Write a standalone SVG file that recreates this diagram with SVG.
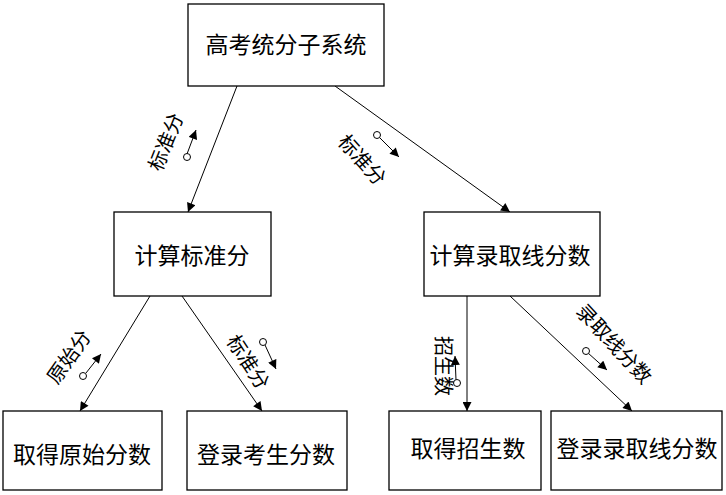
<svg xmlns="http://www.w3.org/2000/svg" width="726" height="495" viewBox="0 0 726 495">
<defs>
<style>
.b{fill:#fff;stroke:#000;stroke-width:1.3}
.t{font-family:"Liberation Serif","Noto Sans CJK SC",serif;font-size:23px;text-anchor:middle;dominant-baseline:central}
.l{font-family:"Liberation Serif","Noto Sans CJK SC",serif;font-size:20px;text-anchor:middle;dominant-baseline:central}
.c{stroke:#000;stroke-width:1;fill:none}
.dc{fill:#fff;stroke:#000;stroke-width:1}
</style>
<marker id="a" viewBox="0 0 10 10" refX="10" refY="5" markerWidth="12" markerHeight="9" markerUnits="userSpaceOnUse" orient="auto"><path d="M0,0L10,5L0,10z"/></marker>
<marker id="s" viewBox="0 0 10 10" refX="10" refY="5" markerWidth="10" markerHeight="9" markerUnits="userSpaceOnUse" orient="auto"><path d="M0,0L10,5L0,10z"/></marker>
</defs>
<rect width="726" height="495" fill="#fff"/>
<g id="connectors">
<line class="c" x1="237" y1="86" x2="188" y2="212" marker-end="url(#a)"/>
<line class="c" x1="335" y1="86" x2="510" y2="212" marker-end="url(#a)"/>
<line class="c" x1="150" y1="296" x2="80" y2="411" marker-end="url(#a)"/>
<line class="c" x1="182" y1="296" x2="262" y2="411" marker-end="url(#a)"/>
<line class="c" x1="467" y1="296" x2="467" y2="411" marker-end="url(#a)"/>
<line class="c" x1="510" y1="296" x2="632" y2="411" marker-end="url(#a)"/>
</g>
<g id="couples">
<line class="c" x1="187" y1="154" x2="196" y2="130" marker-end="url(#s)"/><circle class="dc" cx="187" cy="157" r="3.5"/>
<line class="c" x1="379" y1="137" x2="399" y2="157" marker-end="url(#s)"/><circle class="dc" cx="377" cy="135" r="3.5"/>
<line class="c" x1="86" y1="373" x2="101" y2="354" marker-end="url(#s)"/><circle class="dc" cx="83" cy="376" r="3.5"/>
<line class="c" x1="265" y1="345" x2="276" y2="369" marker-end="url(#s)"/><circle class="dc" cx="263" cy="342" r="3.5"/>
<line class="c" x1="456" y1="380" x2="455" y2="356" marker-end="url(#s)"/><circle class="dc" cx="457" cy="383" r="3.5"/>
<line class="c" x1="588" y1="353" x2="607" y2="370" marker-end="url(#s)"/><circle class="dc" cx="586" cy="351" r="3.5"/>
</g>
<g id="labels">
<text class="l" transform="translate(166,142) rotate(-68)">标准分</text>
<text class="l" transform="translate(362,160) rotate(48)">标准分</text>
<text class="l" transform="translate(69,357) rotate(-55)">原始分</text>
<text class="l" transform="translate(248,362) rotate(57)">标准分</text>
<text class="l" transform="translate(443,366) rotate(90)">招生数</text>
<text class="l" transform="translate(614,344) rotate(47)">录取线分数</text>
</g>
<g id="n1"><rect class="b" x="188" y="4" width="196" height="82"/><text class="t" x="286" y="45">高考统分子系统</text></g>
<g id="n2"><rect class="b" x="114" y="212" width="157" height="84"/><text class="t" x="192" y="256">计算标准分</text></g>
<g id="n3"><rect class="b" x="424" y="212" width="176" height="84"/><text class="t" x="510" y="256">计算录取线分数</text></g>
<g id="n4"><rect class="b" x="3" y="411" width="159" height="79"/><text class="t" x="82" y="455">取得原始分数</text></g>
<g id="n5"><rect class="b" x="187" y="411" width="160" height="79"/><text class="t" x="266" y="455">登录考生分数</text></g>
<g id="n6"><rect class="b" x="389" y="411" width="152" height="79"/><text class="t" x="468" y="449">取得招生数</text></g>
<g id="n7"><rect class="b" x="551" y="411" width="171" height="79"/><text class="t" x="637" y="449">登录录取线分数</text></g>
</svg>
